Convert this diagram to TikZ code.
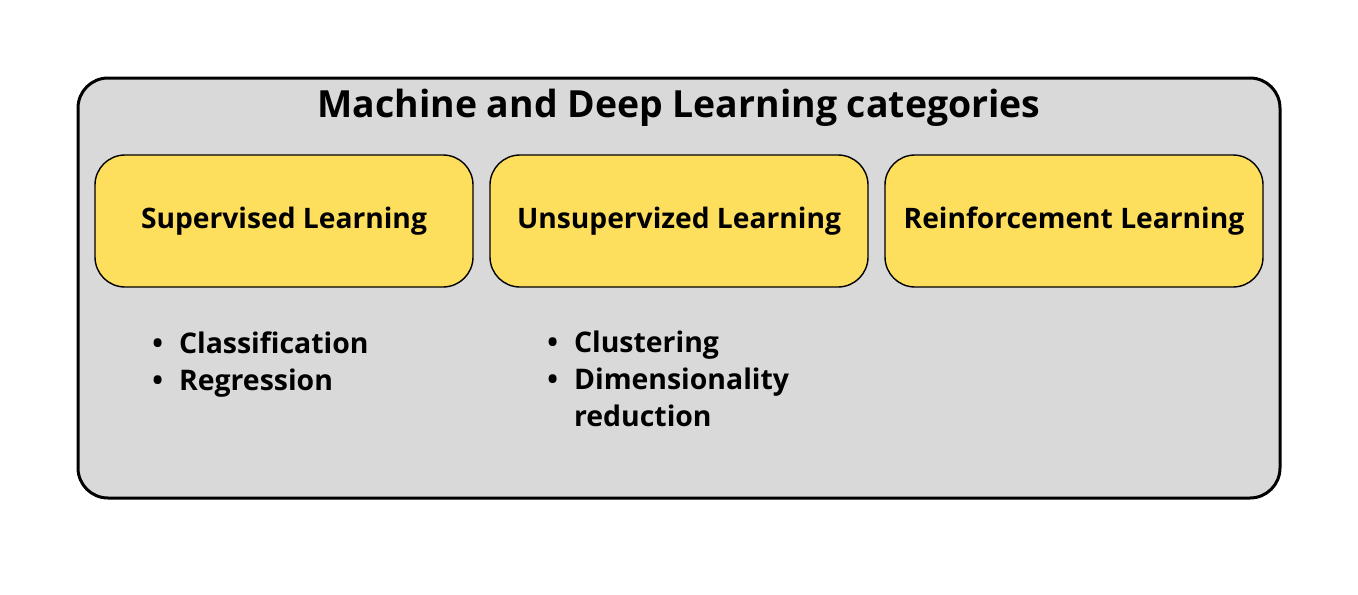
\documentclass[tikz,border=0pt]{standalone}
\usepackage{fontspec}
\setmainfont{Open Sans}
\begin{document}
\begin{tikzpicture}[x=0.5pt,y=-0.5pt,
  outer/.style={draw=black,line width=1.5pt,fill=gray!30!white,rounded corners=15pt},
  cat/.style={draw=black,line width=0.7pt,fill={rgb,255:red,253;green,222;blue,93},rounded corners=15pt,minimum width=189pt,minimum height=66pt,font=\bfseries\fontsize{14.1}{16}\selectfont},
  lst/.style={anchor=north west,align=left,font=\bfseries\fontsize{14.2}{18.5}\selectfont,inner sep=0pt}]
\useasboundingbox (0,0) rectangle (1358,594);
\draw[outer] (78,78) rectangle (1280,498);
\node[font=\bfseries\fontsize{18.7}{21}\selectfont] (title) at (679,108) {Machine and Deep Learning categories};
\node[cat] (sup) at (284,221) {\raisebox{-2pt}{Supervised Learning}};
\node[cat] (uns) at (679,221) {\raisebox{-2pt}{Unsupervized Learning}};
\node[cat] (rei) at (1074,221) {\raisebox{-2pt}{Reinforcement Learning}};
\node[lst] (l1) at (152,331) {\textbullet\hspace{8pt}Classification\\\textbullet\hspace{8pt}Regression};
\node[lst] (l2) at (547,331) {\textbullet\hspace{8pt}Clustering\\\textbullet\hspace{8pt}Dimensionality\\\phantom{\textbullet}\hspace{8pt}reduction};
\end{tikzpicture}
\end{document}
